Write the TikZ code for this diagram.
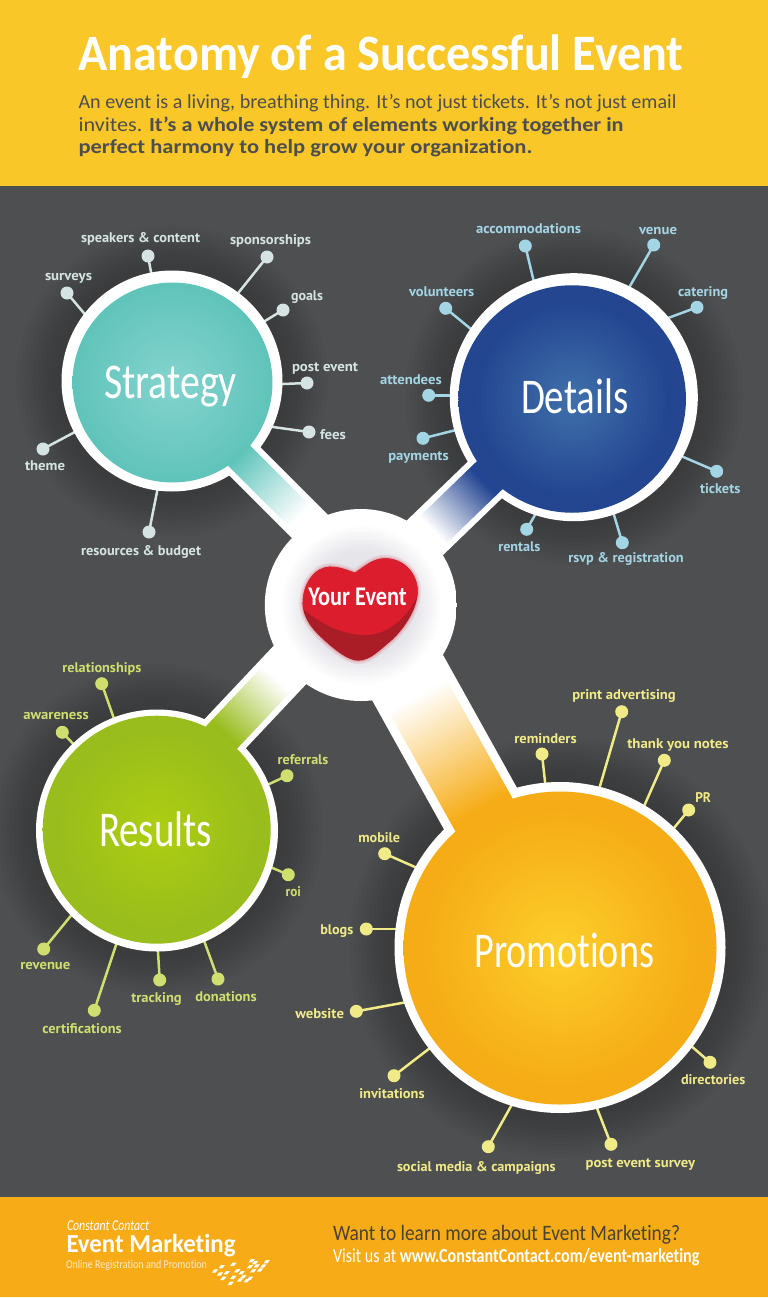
\documentclass[tikz,border=0pt]{standalone}
\usepackage{fontspec}
\setmainfont[Ligatures=NoCommon]{Carlito}
\newfontfamily\labfont{PT Sans}
\pgfdeclarelayer{halos}
\pgfdeclarelayer{spokes}
\pgfsetlayers{halos,spokes,main}
\definecolor{bgdark}{RGB}{78,79,81}
\definecolor{topbar}{RGB}{250,199,40}
\definecolor{footbar}{RGB}{247,172,23}
\definecolor{heading}{RGB}{77,78,80}
\definecolor{wantc}{RGB}{72,66,50}
\definecolor{cS}{RGB}{213,228,226}
\definecolor{cD}{RGB}{163,213,228}
\definecolor{cR}{RGB}{208,222,112}
\definecolor{cP}{RGB}{240,234,135}
\definecolor{rimS}{RGB}{97,197,188}
\definecolor{rimD}{RGB}{36,70,146}
\definecolor{rimR}{RGB}{152,188,28}
\definecolor{rimP}{RGB}{246,172,22}
\definecolor{heartL}{RGB}{219,29,45}
\definecolor{heartD}{RGB}{170,28,38}
\pgfdeclareradialshading{discS}{\pgfpoint{0bp}{0bp}}{rgb(0bp)=(0.52,0.83,0.81);rgb(24bp)=(0.38,0.77,0.735);rgb(50bp)=(0.38,0.77,0.735)}
\pgfdeclareradialshading{discD}{\pgfpoint{0bp}{0bp}}{rgb(0bp)=(0.25,0.44,0.67);rgb(21bp)=(0.14,0.275,0.57);rgb(50bp)=(0.14,0.275,0.57)}
\pgfdeclareradialshading{discR}{\pgfpoint{0bp}{0bp}}{rgb(0bp)=(0.68,0.81,0.07);rgb(22bp)=(0.60,0.74,0.11);rgb(50bp)=(0.60,0.74,0.11)}
\pgfdeclareradialshading{discP}{\pgfpoint{0bp}{0bp}}{rgb(0bp)=(0.99,0.81,0.17);rgb(22bp)=(0.965,0.675,0.085);rgb(50bp)=(0.965,0.675,0.085)}
\pgfdeclareradialshading{discC}{\pgfpoint{0bp}{0bp}}{rgb(0bp)=(0.88,0.88,0.90);rgb(14bp)=(0.90,0.90,0.92);rgb(21bp)=(1,1,1);rgb(50bp)=(1,1,1)}
\tikzset{
  ring/.style={circle,fill=white,inner sep=0pt,outer sep=0pt},
  disc/.style={circle,shade,shading=#1,inner sep=0pt,outer sep=0pt},
  dotnode/.style={circle,inner sep=0pt,outer sep=0pt,minimum size=13pt},
  spoke/.style={line width=2.5pt,shorten >=-3pt},
  lab/.style={inner sep=0pt,outer sep=0pt,anchor=base west,font=\labfont\bfseries\fontsize{14pt}{15pt}\selectfont},
  bigt/.style={inner sep=0pt,outer sep=0pt,anchor=base west,text=white,font=\fontsize{50pt}{52pt}\selectfont},
  line/.style={inner sep=0pt,outer sep=0pt,anchor=base west},
}
\newcommand\fitw[3]{\resizebox{\dimexpr #2pt-#1pt\relax}{\height}{#3}}
% id, colour, dot, spoke end at the circle, text x0, x1, baseline, text
\newcommand\twig[8]{%
  \node[dotnode,fill=#2] (d#1) at (#3) {};
  \coordinate (e#1) at (#4);
  \begin{pgfonlayer}{spokes}\draw[spoke,draw=#2] (d#1.center) -- (e#1);\end{pgfonlayer}
  \node[lab,text=#2] (t#1) at (#5,#7) {\fitw{#5}{#6}{#8}};
}
% start, angle, half width, inner half width, length, fade end, colour, length held solid
\newcommand\band[8]{%
  \begin{scope}[transform canvas={shift={(#1)},rotate=#2}]
    \fill[white] (0,-#3) rectangle (#5,#3);
    \fill[#7] (0,-#4) rectangle (#8+0.5,#4);
    \shade[left color=#7,right color=white] (#8,-#4) rectangle (#6,#4);
  \end{scope}
}
\newcommand\halo[2]{%
  \begin{pgfonlayer}{halos}
    \foreach \k in {0,...,11}{\fill[black,opacity=0.017] (#1) circle ({#2+4*\k});}
  \end{pgfonlayer}
}
\newcommand\chip[2]{\fill[white] (#1-3.2,#2+1.7) -- (#1+0.6,#2+1.7) -- (#1+3.2,#2-1.7) -- (#1-0.6,#2-1.7) -- cycle;}
\begin{document}
\begin{tikzpicture}[x=1pt,y=-1pt]
\useasboundingbox (0,0) rectangle (768,1298);
\begin{pgfonlayer}{halos}
  \fill[bgdark] (0,0) rectangle (768,1298);
  \fill[topbar] (0,0) rectangle (768,186);
  \fill[footbar] (0,1197) rectangle (768,1297);
  \fill[white!85!footbar] (0,1297) rectangle (768,1298);
\end{pgfonlayer}
% header
\node[line,text=white,font=\bfseries\fontsize{51pt}{53pt}\selectfont] (title) at (78.5,70.7) {\fitw{78.5}{683.5}{Anatomy of a Successful Event}};
\node[line,text=heading,font=\fontsize{20pt}{22pt}\selectfont] (intro1) at (78.5,108.3) {\fitw{78.5}{676.5}{An event is a living, breathing thing. It’s not just tickets. It’s not just email}};
\node[line,text=heading,font=\fontsize{20pt}{22pt}\selectfont] (intro2) at (78.5,131) {\fitw{78.5}{623.5}{invites. \textbf{It’s a whole system of elements working together in}}};
\node[line,text=heading,font=\bfseries\fontsize{20pt}{22pt}\selectfont] (intro3) at (78.5,153.3) {\fitw{78.5}{532.4}{perfect harmony to help grow your organization.}};
% halos
\halo{172,381}{112}
\halo{574,397}{125}
\halo{157,830}{122}
\halo{560,947}{167}
% outer white rings
\node[ring,minimum size=221pt] (ringS) at (172,381) {};
\node[ring,minimum size=248pt] (ringD) at (573.8,397.2) {};
\node[ring,minimum size=242pt] (ringR) at (157,830.5) {};
\node[ring,minimum size=331pt] (ringP) at (560,947.5) {};
% bands towards the centre
\band{222,438.5}{-45}{21}{15}{135}{110}{rimS}{25}
\band{501,464.3}{-136}{25}{19}{120}{95}{rimD}{25}
\band{207.9,752}{46.7}{25}{19}{125}{100}{rimR}{25}
\band{494.9,834.5}{119.1}{42}{33}{190}{160}{rimP}{30}
% inner discs
\node[disc=discS,minimum size=200pt] (discS) at (172.5,382.5) {};
\node[disc=discD,minimum size=227.5pt] (discD) at (572.2,399) {};
\node[disc=discR,minimum size=228pt] (discR) at (156.7,829.7) {};
\node[disc=discP,minimum size=313pt] (discP) at (560,948) {};
\node[bigt] (nameS) at (104,398.3) {\fitw{104}{236.7}{Strategy}};
\node[bigt] (nameD) at (521,413.3) {\fitw{521}{628.3}{Details}};
\node[bigt] (nameR) at (99,846) {\fitw{99}{211.7}{Results}};
\node[bigt] (nameP) at (474.3,967.3) {\fitw{474.3}{654}{Promotions}};
% centre
\node[disc=discC,minimum size=192pt] (hub) at (360.8,605) {};
\def\heartpath{(355,572.7) .. controls (365,566) and (373,558.3) .. (385,558.3)
  .. controls (405,558.3) and (418,575) .. (417.7,591.7)
  .. controls (417.5,610) and (403,630) .. (392,640)
  .. controls (380,650) and (370,660.7) .. (358.3,660.7)
  .. controls (348,660.7) and (335,650) .. (325,641)
  .. controls (315,632) and (302.7,620) .. (302.7,603.3)
  .. controls (302.7,582) and (316,566.7) .. (330,566.7)
  .. controls (340,566.7) and (347,570) .. (355,572.7) -- cycle}
\draw[heartL,opacity=0.10,line width=7pt,line join=round] \heartpath;
\draw[heartL,opacity=0.18,line width=3pt,line join=round] \heartpath;
\fill[heartD] \heartpath;
\begin{scope}
  \clip \heartpath;
  \fill[heartL] (300,606) .. controls (322,626) and (345,635) .. (365,635)
     .. controls (390,635) and (410,615) .. (420,590) -- (422,550) -- (298,550) -- cycle;
\end{scope}
\node[line,text=white,font=\bfseries\fontsize{27pt}{29pt}\selectfont] (you) at (308.3,605.7) {\fitw{308.3}{406.7}{Your Event}};
% Strategy twigs
\twig{s1}{cS}{148,256}{151,272}{81}{200}{242.3}{speakers \& content}
\twig{s2}{cS}{267,257}{239,292}{230}{311}{244.3}{sponsorships}
\twig{s3}{cS}{67,293}{83,312}{45}{92}{280.3}{surveys}
\twig{s4}{cS}{283,310}{265,321}{291}{323}{300.3}{goals}
\twig{s5}{cS}{307,383}{283,384}{292}{358}{371.7}{post event}
\twig{s6}{cS}{309,432}{273,427}{320}{346}{439}{fees}
\twig{s7}{cS}{43,449}{73,433}{25}{65}{470.3}{theme}
\twig{s8}{cS}{149,532}{157,492}{81}{201}{555}{resources \& budget}
% Details twigs
\twig{d1}{cD}{525.3,246}{533.3,279.3}{476}{581}{233.3}{accommodations}
\twig{d2}{cD}{653.7,245}{630,286}{639}{677}{234.3}{venue}
\twig{d3}{cD}{697,307.3}{670,317.3}{678}{728}{296}{catering}
\twig{d4}{cD}{445.7,308.3}{470,328.3}{409}{474.3}{296}{volunteers}
\twig{d5}{cD}{428.7,395.3}{450,395.3}{380}{441.7}{384.3}{attendees}
\twig{d6}{cD}{423,438.3}{453.3,430.7}{388.3}{448.7}{460}{payments}
\twig{d7}{cD}{716.7,471.3}{684,457.3}{700}{740.3}{493.3}{tickets}
\twig{d8}{cD}{526.7,529.3}{535,515}{498.3}{540.3}{551}{rentals}
\twig{d9}{cD}{622.3,542.7}{614,515}{568.3}{683.7}{562.7}{rsvp \& registration}
% Results twigs
\twig{r1}{cR}{101.7,683.7}{113.3,716.7}{62.3}{141.3}{672.7}{relationships}
\twig{r2}{cR}{62.3,732.3}{72.7,743.3}{23.3}{88.7}{719}{awareness}
\twig{r3}{cR}{287,775.7}{270.7,783.3}{277.7}{328.3}{764}{referrals}
\twig{r4}{cR}{288.3,874.7}{273.3,868.3}{285.7}{301}{896}{roi}
\twig{r5}{cR}{43.7,949}{70.7,916}{20.3}{70.3}{969.3}{revenue}
\twig{r6}{cR}{94.3,1010.3}{115.7,946}{42.3}{121.7}{1033.3}{certifications}
\twig{r7}{cR}{159.7,980}{158,951.7}{131.3}{181.7}{1002.3}{tracking}
\twig{r8}{cR}{218,979}{205,943.3}{195.3}{256.7}{1001}{donations}
% Promotions twigs
\twig{p1}{cP}{621.7,711.7}{600,786}{572.3}{675.7}{699.3}{print advertising}
\twig{p2}{cP}{542,754}{545,781.7}{514.3}{576.7}{743.3}{reminders}
\twig{p3}{cP}{664.3,760.3}{645,804}{627.3}{728.7}{748.3}{thank you notes}
\twig{p4}{cP}{688.7,810}{675,826.7}{695.3}{711}{802}{PR}
\twig{p5}{cP}{384.7,853.7}{414.3,866.7}{358.3}{400}{842.3}{mobile}
\twig{p6}{cP}{366.3,929}{395,929}{320.3}{353.3}{934}{blogs}
\twig{p7}{cP}{356.3,1011.3}{403.3,1002.7}{295.3}{344}{1018}{website}
\twig{p8}{cP}{394,1075.7}{428.3,1049.3}{359.3}{424.7}{1098.3}{invitations}
\twig{p9}{cP}{488.3,1146.7}{510.7,1106.7}{397}{555.7}{1171}{social media \& campaigns}
\twig{p10}{cP}{611,1144.3}{597.7,1110}{585.7}{695}{1167.7}{post event survey}
\twig{p11}{cP}{710,1062.3}{692.7,1047.3}{681}{745.3}{1084}{directories}
% footer
\node[line,text=white,font=\itshape\fontsize{15pt}{17pt}\selectfont] (cc) at (67,1230) {\fitw{67}{151}{Constant Contact\raisebox{.6ex}{\fontsize{5pt}{5pt}\selectfont ®}}};
\node[line,text=white,font=\bfseries\fontsize{26pt}{28pt}\selectfont] (em) at (66.5,1252) {\fitw{66.5}{235.5}{Event Marketing}};
\node[line,text=white!75!footbar,font=\fontsize{12pt}{14pt}\selectfont] (orp) at (66,1268) {\fitw{66}{207}{Online Registration and Promotion}};
\foreach \cx/\cy in {215/1271,221.7/1266.7,233.3/1264.3,251.7/1260.7,255/1262.7,266.7/1261.7,
  220/1274,226.7/1272.7,237.3/1270.7,241.7/1272.7,250/1266.7,256.7/1266,263.3/1266,
  223.3/1278.3,233.3/1277.3,243.3/1276.7,250/1278.3,253.3/1270.7,260/1270,
  230.7/1283.3,240/1280,246.7/1280.7}
  {\chip{\cx}{\cy}}
\node[line,text=wantc,font=\fontsize{22pt}{24pt}\selectfont] (want) at (333,1240) {\fitw{333}{680}{Want to learn more about Event Marketing?}};
\node[line,text=white,font=\fontsize{20pt}{22pt}\selectfont] (visit) at (333,1262.7) {\fitw{333}{699.5}{Visit us at \textbf{www.ConstantContact.com/event-marketing}}};
\end{tikzpicture}
\end{document}
